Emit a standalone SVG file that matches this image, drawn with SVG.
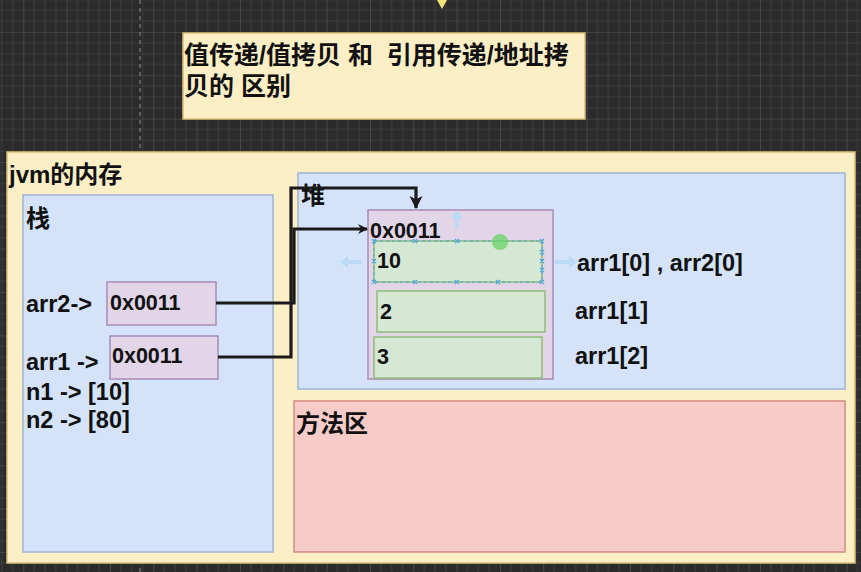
<svg xmlns="http://www.w3.org/2000/svg" width="861" height="572" viewBox="0 0 861 572">
<defs>
<pattern id="grid" width="43.33" height="43.33" patternUnits="userSpaceOnUse" patternTransform="translate(110,32)">
<path d="M10.83 0V43.33M21.67 0V43.33M32.5 0V43.33M0 10.83H43.33M0 21.67H43.33M0 32.5H43.33" stroke="#3e3e3e" stroke-width="1" fill="none"/>
<path d="M0 0V43.33M0 0H43.33" stroke="#5a5a5a" stroke-width="1.2" fill="none"/>
</pattern>
<marker id="arrDown" viewBox="0 0 12 12" refX="11" refY="6" markerWidth="13" markerHeight="13" markerUnits="userSpaceOnUse" orient="auto">
<path d="M0 0L12 6L0 12L3 6Z" fill="#1a1a1a"/>
</marker>
<marker id="arrSmall" viewBox="0 0 10 10" refX="9" refY="5" markerWidth="10" markerHeight="10" markerUnits="userSpaceOnUse" orient="auto">
<path d="M0 0L10 5L0 10L3 5Z" fill="#1a1a1a"/>
</marker>
</defs>
<style>
text{font-family:"Liberation Sans","Noto Sans CJK SC",Arial,sans-serif;font-weight:bold;fill:#111;}
.lbl{font-size:23.5px;}
.val{font-size:21.5px;}
.cjk{font-size:24px;}
.ttl{font-size:25px;}
.blue{fill:#d4e3f9;stroke:#9db4d6;stroke-width:1.5;}
.purple{fill:#e1d5e7;stroke:#a88bb8;stroke-width:1.5;}
.green{fill:#d5e8d4;stroke:#8fbc78;stroke-width:1.5;}
.yellow{fill:#fcefc6;stroke:#d9c07a;stroke-width:1.5;}
.pink{fill:#f7ccc8;stroke:#d28a84;stroke-width:1.5;}
.conn{fill:none;stroke:#1a1a1a;stroke-width:3.2;}
.h{fill:none;stroke:#49a6e0;stroke-width:1.2;}
.hint{fill:#bcd9f5;}
</style>
<rect x="0" y="0" width="861" height="572" fill="#2b2b2b"/>
<rect x="0" y="0" width="861" height="572" fill="url(#grid)"/>
<line x1="140" y1="0" x2="140" y2="572" stroke="#8a8a8a" stroke-width="1" stroke-dasharray="4,4"/>
<path d="M437 0H447L442 9Z" fill="#f4e27a"/>

<g id="title">
<rect class="yellow" x="183" y="33" width="402" height="86"/>
<text class="ttl" x="184" y="64" xml:space="preserve">值传递/值拷贝 和  引用传递/地址拷</text>
<text class="ttl" x="184" y="95" xml:space="preserve">贝的 区别</text>
</g>

<g id="jvm">
<rect class="yellow" x="7" y="152" width="848" height="411"/>
<text class="cjk" x="9" y="183">jvm的内存</text>
</g>

<g id="stack">
<rect class="blue" x="23" y="195" width="250" height="357"/>
<text class="cjk" x="26" y="227">栈</text>
<text class="lbl" x="26" y="312">arr2-&gt;</text>
<text class="lbl" x="26" y="370">arr1 -&gt;</text>
<text class="lbl" x="26" y="400">n1 -&gt; [10]</text>
<text class="lbl" x="26" y="428">n2 -&gt; [80]</text>
</g>

<g id="arr2">
<rect class="purple" x="107" y="282" width="109" height="43"/>
<text class="val" x="110" y="310">0x0011</text>
</g>

<g id="arr1">
<rect class="purple" x="110" y="336" width="108" height="43"/>
<text class="val" x="112" y="363">0x0011</text>
</g>

<g id="heap">
<rect class="blue" x="298" y="173" width="547" height="216"/>
<text class="cjk" x="301" y="204">堆</text>
<text class="lbl" x="577" y="271">arr1[0] , arr2[0]</text>
<text class="lbl" x="575" y="319">arr1[1]</text>
<text class="lbl" x="575" y="364">arr1[2]</text>
</g>

<g id="array">
<rect class="purple" x="368" y="210" width="185" height="169"/>
<text class="val" x="370" y="238">0x0011</text>
</g>

<g id="cell0">
<rect class="green" x="374" y="241" width="168" height="41"/>
<text class="val" x="377" y="268">10</text>
</g>

<g id="cell1">
<rect class="green" x="377" y="291" width="168" height="41"/>
<text class="val" x="380" y="319">2</text>
</g>

<g id="cell2">
<rect class="green" x="374" y="337" width="168" height="41"/>
<text class="val" x="377" y="364">3</text>
</g>

<g id="method">
<rect class="pink" x="294" y="401" width="551" height="151"/>
<text class="cjk" x="296" y="432">方法区</text>
</g>

<g id="selection">
<rect x="374" y="241" width="168" height="41" fill="none" stroke="#49a6e0" stroke-width="1" stroke-dasharray="3,3"/>
<path class="h" d="M372 239l4 4m0-4l-4 4M413 239l4 4m0-4l-4 4M455 239l4 4m0-4l-4 4M540 239l4 4m0-4l-4 4M372 280l4 4m0-4l-4 4M413 280l4 4m0-4l-4 4M455 280l4 4m0-4l-4 4M496 280l4 4m0-4l-4 4M540 280l4 4m0-4l-4 4M372 259l4 4m0-4l-4 4M540 250l4 4m0-4l-4 4M540 259l4 4m0-4l-4 4M540 268l4 4m0-4l-4 4"/>
<circle cx="500" cy="242" r="8" fill="#6fd36f" opacity="0.8"/>
<path class="hint" d="M457 210l-6 8h4v10h4v-10h4z"/>
<path class="hint" d="M340 262l8-6v4h14v4h-14v4z"/>
<path class="hint" d="M577 262l-8-6v4h-14v4h14v4z"/>
</g>

<g id="connectors">
<path class="conn" d="M218 357H291V188H416V208" marker-end="url(#arrDown)"/>
<path class="conn" d="M216 303H294V229H367" marker-end="url(#arrSmall)"/>
</g>
</svg>
